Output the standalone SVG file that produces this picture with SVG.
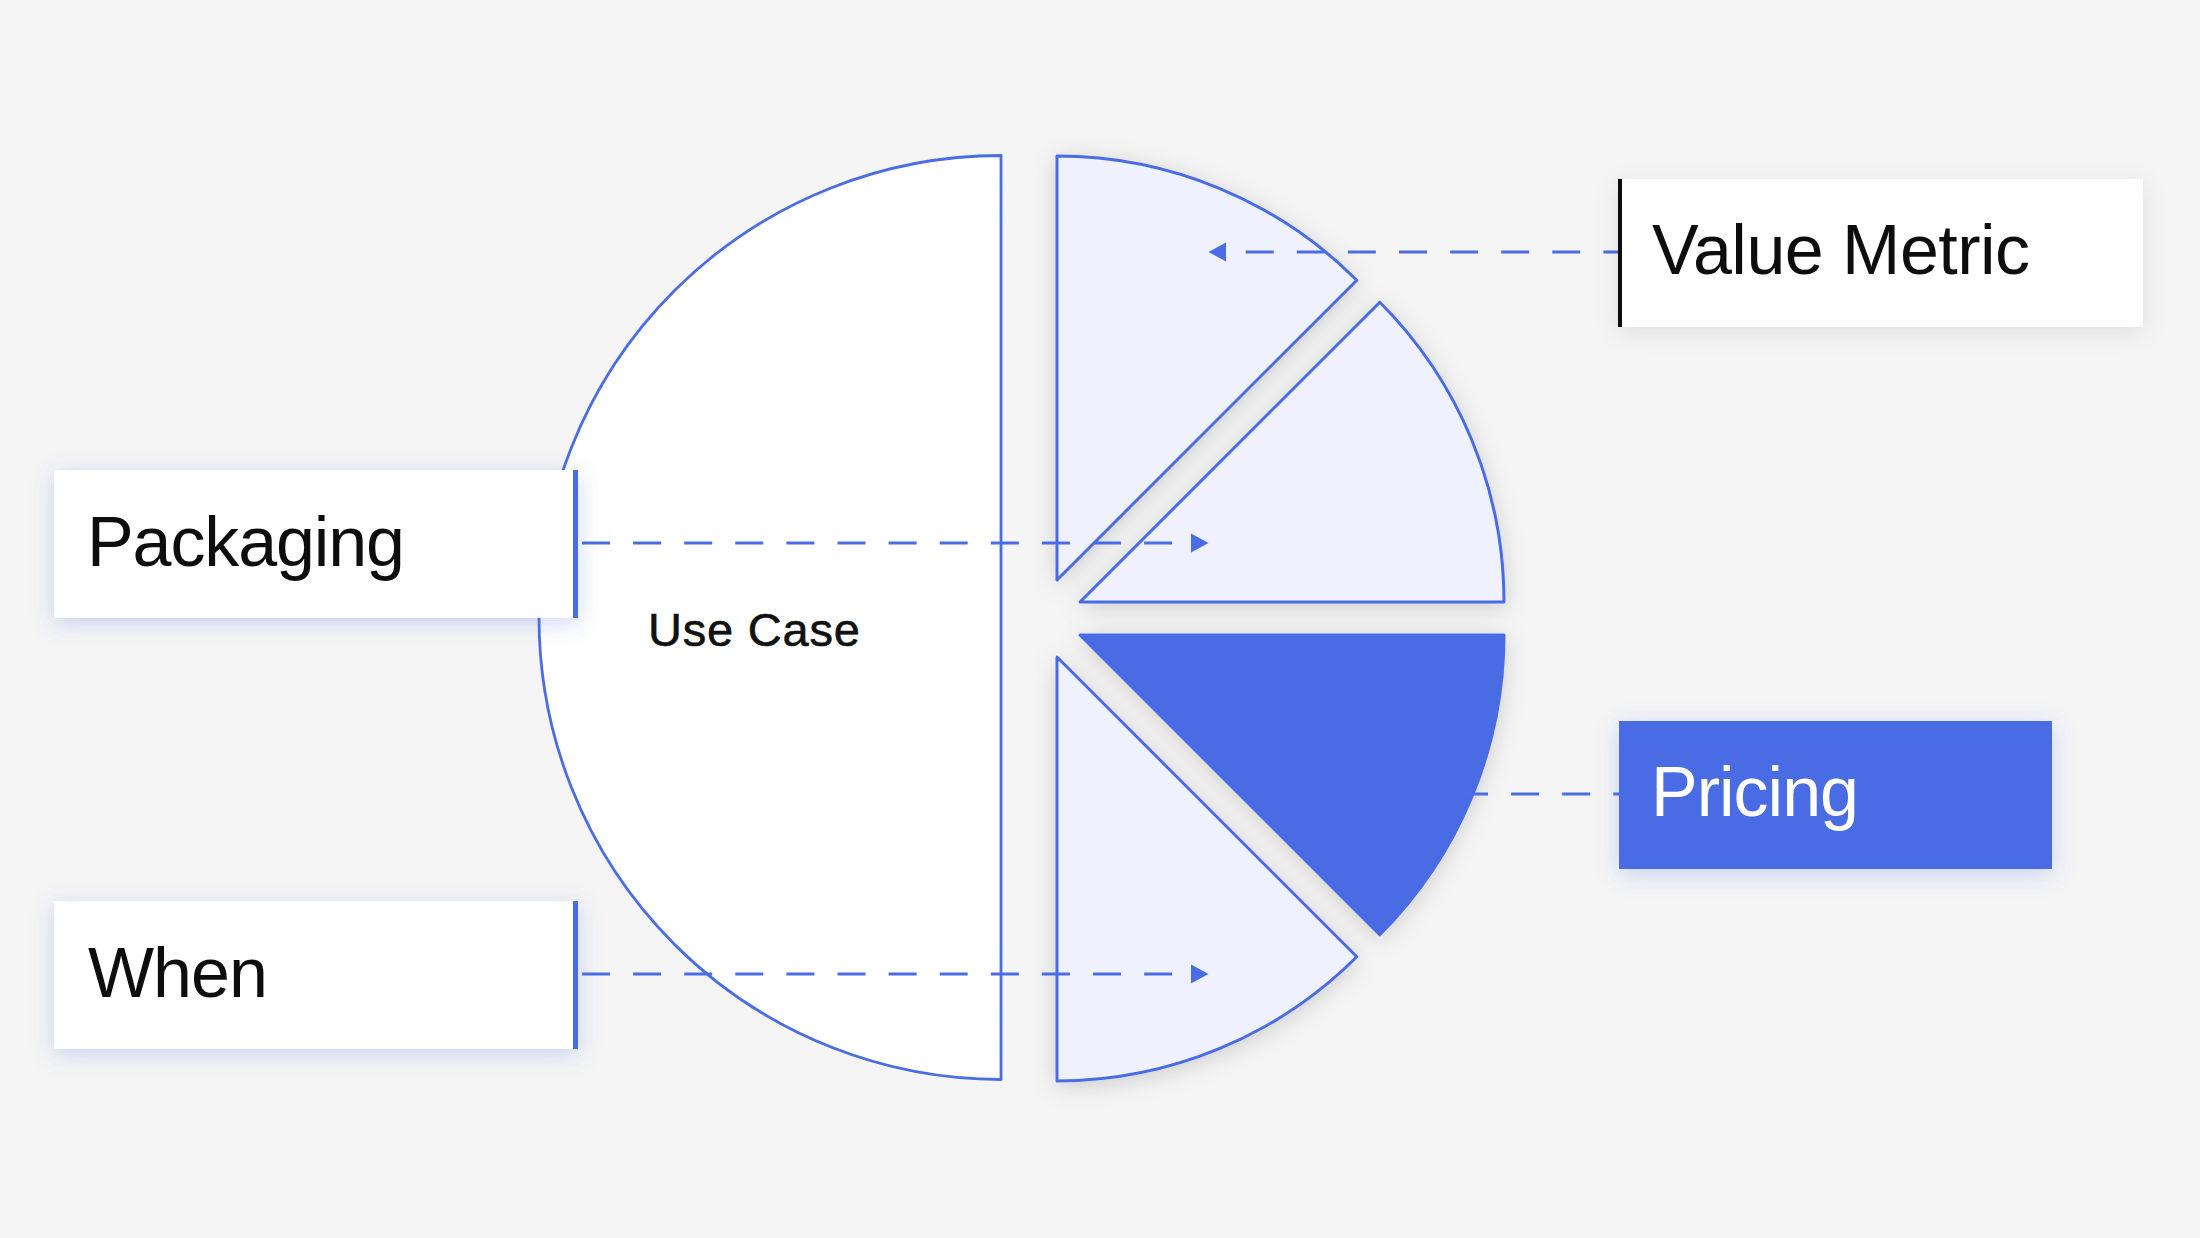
<svg xmlns="http://www.w3.org/2000/svg" width="2200" height="1238" viewBox="0 0 2200 1238">
  <defs>
    <style>
      .slice { fill: #EFF2FE; stroke: #4A6CE5; stroke-width: 3; stroke-linejoin: round; }
      .slice-on { fill: #4A6CE5; stroke: #4A6CE5; stroke-width: 3; stroke-linejoin: round; }
      .half { fill: #FFFFFF; stroke: #4A6CE5; stroke-width: 2.8; stroke-linejoin: round; }
      .dash { fill: none; stroke: #4A6CE5; stroke-width: 3.2; stroke-dasharray: 28 23.1; }
      .box { fill: #FFFFFF; }
      .box-on { fill: #4A6CE5; }
      .label { font-family: "Liberation Sans", Arial, Helvetica, sans-serif; font-size: 70px; fill: #111111; }
      .label-on { font-family: "Liberation Sans", Arial, Helvetica, sans-serif; font-size: 70px; fill: #FFFFFF; }
      .inner { font-family: "Liberation Sans", Arial, Helvetica, sans-serif; font-size: 47px; fill: #111111; stroke: #111111; stroke-width: 0.6; }
    </style>
    <filter id="pieShadow" x="-20%" y="-20%" width="140%" height="140%">
      <feDropShadow dx="0" dy="4" stdDeviation="11" flood-color="#000000" flood-opacity="0.17"/>
    </filter>
    <filter id="blueGlow" x="-20%" y="-40%" width="140%" height="180%">
      <feDropShadow dx="0" dy="5" stdDeviation="11" flood-color="#4A6CE5" flood-opacity="0.28"/>
    </filter>
    <filter id="greyShadow" x="-20%" y="-40%" width="140%" height="180%">
      <feDropShadow dx="0" dy="5" stdDeviation="11" flood-color="#000000" flood-opacity="0.10"/>
    </filter>
    <marker id="arrow" markerUnits="userSpaceOnUse" markerWidth="20" markerHeight="22" viewBox="0 -11 20 22" refX="0" refY="0" orient="auto-start-reverse">
      <path d="M0,-9.5 L17.5,0 L0,9.5 Z" fill="#4A6CE5"/>
    </marker>
  </defs>

  <rect x="0" y="0" width="2200" height="1238" fill="#F5F5F5"/>

  <g id="use-case">
    <path class="half" d="M1001,155.5 A462,462 0 0 0 1001,1079.5 Z"/>
    <text class="inner" x="648" y="646" textLength="212" lengthAdjust="spacing">Use Case</text>
  </g>
  <g id="slice-value-metric" filter="url(#pieShadow)">
    <path class="slice" d="M1057,580 L1057,156 A424,424 0 0 1 1356.8,280.2 Z"/>
  </g>
  <g id="slice-packaging" filter="url(#pieShadow)">
    <path class="slice" d="M1080,602 L1379.8,302.2 A424,424 0 0 1 1504,602 Z"/>
  </g>
  <g id="slice-pricing" filter="url(#pieShadow)">
    <path class="slice-on" d="M1080,635 L1504,635 A424,424 0 0 1 1379.8,934.8 Z"/>
  </g>
  <g id="slice-when" filter="url(#pieShadow)">
    <path class="slice" d="M1057,657 L1356.8,956.8 A424,424 0 0 1 1057,1081 Z"/>
  </g>

  <g id="connectors">
    <path class="dash" d="M582,543 H1191" marker-end="url(#arrow)"/>
    <path class="dash" d="M582,974 H1191" marker-end="url(#arrow)"/>
    <path class="dash" d="M1226,252 H1618" style="stroke-dashoffset:31.4" marker-start="url(#arrow)"/>
    <path class="dash" d="M1460,794 H1619"/>
  </g>

  <g id="packaging" filter="url(#blueGlow)">
    <rect class="box" x="54" y="470" width="524" height="148"/>
    <rect x="573" y="470" width="5" height="148" fill="#4A6CE5"/>
    <text class="label" x="87" y="566" textLength="318" lengthAdjust="spacing">Packaging</text>
  </g>
  <g id="when" filter="url(#blueGlow)">
    <rect class="box" x="54" y="901" width="524" height="148"/>
    <rect x="573" y="901" width="5" height="148" fill="#4A6CE5"/>
    <text class="label" x="88" y="997" textLength="180" lengthAdjust="spacing">When</text>
  </g>
  <g id="value-metric" filter="url(#greyShadow)">
    <rect class="box" x="1618" y="179" width="525" height="148"/>
    <rect x="1618" y="179" width="4" height="148" fill="#0A0A0A"/>
    <text class="label" x="1652" y="274" textLength="378" lengthAdjust="spacing">Value Metric</text>
  </g>
  <g id="pricing" filter="url(#blueGlow)">
    <rect class="box-on" x="1619" y="721" width="433" height="148"/>
    <text class="label-on" x="1651" y="816" textLength="208" lengthAdjust="spacing">Pricing</text>
  </g>
</svg>
